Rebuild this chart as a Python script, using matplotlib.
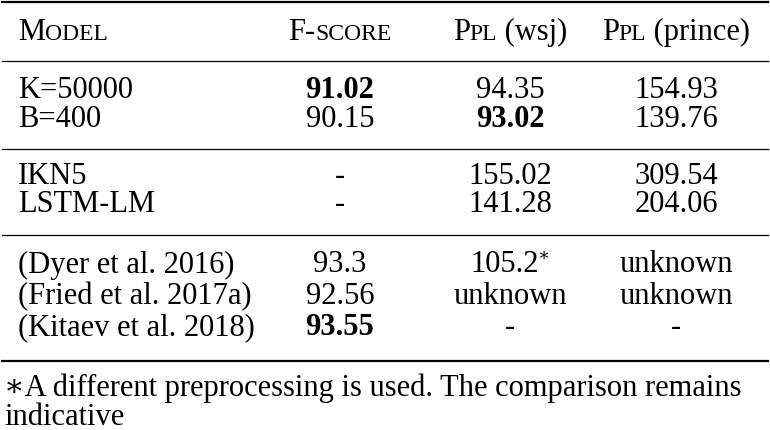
import matplotlib
matplotlib.use("Agg")
import matplotlib.pyplot as plt

plt.rcParams['font.family'] = ['Liberation Serif', 'DejaVu Serif']

# --- table data ---
models = ["K=50000", "B=400", "IKN5", "LSTM-LM",
          "(Dyer et al. 2016)", "(Fried et al. 2017a)", "(Kitaev et al. 2018)"]
fscore = ["91.02", "90.15", "-", "-", "93.3", "92.56", "93.55"]
ppl_wsj = ["94.35", "93.02", "155.02", "141.28", "105.2*", "unknown", "-"]
ppl_prince = ["154.93", "139.76", "309.54", "204.06", "unknown", "unknown", "-"]
bold_cells = [(0, 1), (1, 2), (6, 1)]
footnote = ["\u2217A different preprocessing is used. The comparison remains",
            "indicative"]

row_y = [90, 120, 177, 205, 265, 297, 328]
col_x = [18, 340, 510, 676]
FS = 22
SC = 17  # small caps size

fig = plt.figure(figsize=(7.7, 4.31), dpi=100)
ax = fig.add_axes([0, 0, 1, 1])
ax.set_xlim(0, 770)
ax.set_ylim(431, 0)
ax.axis('off')
fig.canvas.draw()
renderer = fig.canvas.get_renderer()


def pieces_width(pieces):
    w = 0
    for s, size in pieces:
        t = ax.text(0, 0, s, fontsize=size)
        w += t.get_window_extent(renderer).width
        t.remove()
    return w


def draw_pieces(pieces, x, y, ha='left'):
    if ha == 'center':
        x = x - pieces_width(pieces) / 2
    for s, size in pieces:
        t = ax.text(x, y, s, fontsize=size, va='baseline', ha='left')
        x += t.get_window_extent(renderer).width


# header (small caps)
base = 40
draw_pieces([("M", FS), ("ODEL", SC)], col_x[0], base)
draw_pieces([("F-", FS), ("SCORE", SC)], col_x[1], base, 'center')
draw_pieces([("P", FS), ("PL", SC), (" (wsj)", FS)], col_x[2], base, 'center')
draw_pieces([("P", FS), ("PL", SC), (" (prince)", FS)], col_x[3], base, 'center')

# rows
for i, y in enumerate(row_y):
    cells = [models[i], fscore[i], ppl_wsj[i], ppl_prince[i]]
    for j, c in enumerate(cells):
        w = 'bold' if (i, j) in bold_cells else 'normal'
        ha = 'left' if j == 0 else 'center'
        if c.endswith("*"):
            ax.text(col_x[j] - 5, y, c[:-1], fontsize=FS, ha='center', va='center')
            ax.text(col_x[j] + 27, y - 9, "\u2217", fontsize=13, ha='left', va='center')
        else:
            ax.text(col_x[j], y, c, fontsize=FS, ha=ha, va='center', fontweight=w)

# rules
for y, lw in [(3, 1.6), (62, 0.9), (150, 0.9), (236, 0.9), (362, 1.6)]:
    ax.plot([2, 768], [y, y], color='black', lw=lw)

ax.text(4, 388, footnote[0], fontsize=FS, va='center')
ax.text(4, 418, footnote[1], fontsize=FS, va='center')

fig.savefig("out.png", dpi=100)
